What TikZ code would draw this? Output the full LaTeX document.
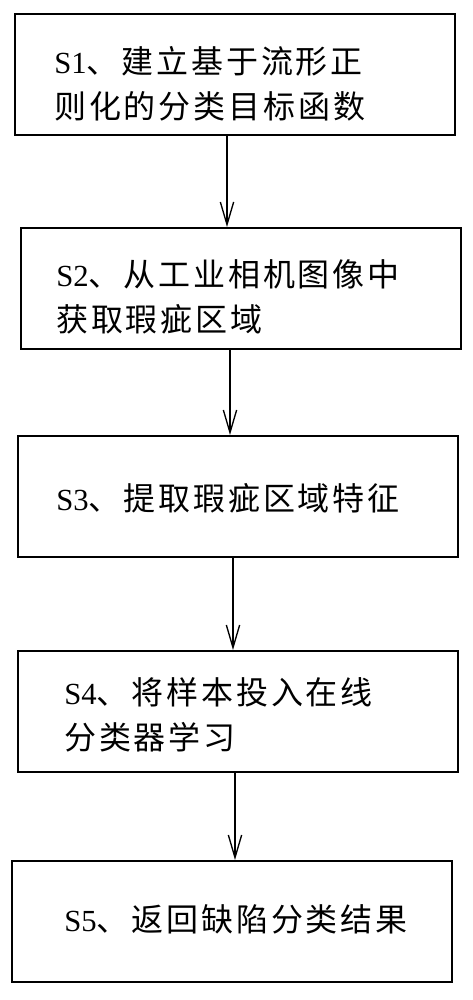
\documentclass[tikz,border=0pt]{standalone}
\usepackage{fontspec}
\setmainfont{Liberation Serif}
\newfontfamily\cjk[LetterSpace=9]{Noto Sans CJK SC}
\newcommand\stepno[1]{{\rmfamily\fontsize{23}{33.75}\selectfont S#1}}
\usetikzlibrary{arrows.meta}

\begin{document}
\begin{tikzpicture}[x=0.75pt,y=-0.75pt,
  stepbox/.style={draw,line width=1.5pt,minimum width=330pt,minimum height=90.75pt,inner sep=0pt},
  steptext/.style={anchor=west,align=left,inner sep=0pt,
    font=\cjk\fontsize{24}{33.75}\selectfont},
  flow/.style={line width=1pt,-{Straight Barb[length=17pt,width=10pt]}}]
  \useasboundingbox (0,0) rectangle (473,1000);
  \node[stepbox] (s1) at (235,74.5) {};
  \node[stepbox] (s2) at (241,288.5) {};
  \node[stepbox] (s3) at (238,496.5) {};
  \node[stepbox] (s4) at (238,711.5) {};
  \node[stepbox] (s5) at (232,921.5) {};
  \node[steptext] (t1) at ([shift={(40,9)}]s1.west) {\stepno{1}、建立基于流形正\\则化的分类目标函数};
  \node[steptext] (t2) at ([shift={(36,8.5)}]s2.west) {\stepno{2}、从工业相机图像中\\获取瑕疵区域};
  \node[steptext] (t3) at ([shift={(39,2)}]s3.west) {\stepno{3}、提取瑕疵区域特征};
  \node[steptext] (t4) at ([shift={(47,3.5)}]s4.west) {\stepno{4}、将样本投入在线\\分类器学习};
  \node[steptext] (t5) at ([shift={(53,-2.5)}]s5.west) {\stepno{5}、返回缺陷分类结果};
  % arrows sit a little left of the box centres
  \foreach \a/\b/\d in {1/2/-6,2/3/-8.25,3/4/-3.75,4/5/-2.25}{
    \draw[flow] ([xshift=\d]s\a.south) -- ([xshift=\d]s\a.south |- s\b.north);
  }
\end{tikzpicture}
\end{document}
